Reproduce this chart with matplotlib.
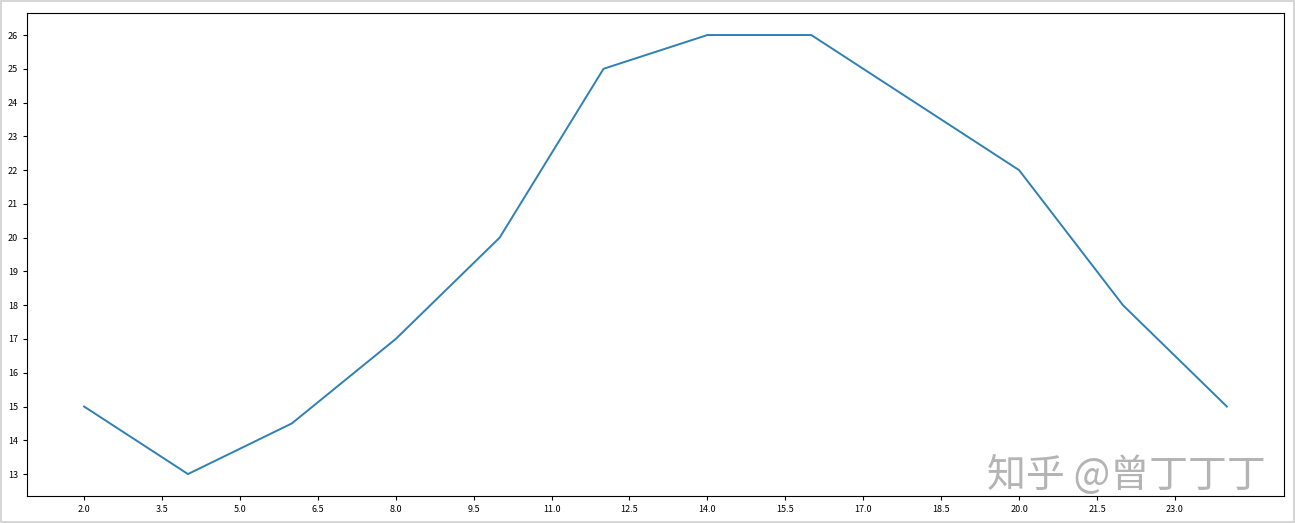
import numpy as np
import matplotlib
matplotlib.use('Agg')
import matplotlib.pyplot as plt
from matplotlib.patches import Rectangle

plt.rcParams['font.family'] = ['Noto Sans CJK SC', 'DejaVu Sans']

# hourly temperature data
hours = [2, 4, 6, 8, 10, 12, 14, 16, 18, 20, 22, 24]
temps = [15, 13, 14.5, 17, 20, 25, 26, 26, 24, 22, 18, 15]
xtick_vals = np.arange(2, 24, 1.5)
ytick_vals = range(13, 27)

fig = plt.figure(figsize=(12.95, 5.23), dpi=100)
ax = fig.add_axes([0.0208, 0.0516, 0.9707, 0.9234])

ax.plot(hours, temps, color='#2f80b4', linewidth=1.4)

ax.set_xticks(xtick_vals)
ax.set_yticks(ytick_vals)
ax.tick_params(labelsize=6.5, length=3)

# light grey frame around the screenshot
fig.patches.append(Rectangle((0.001, 0.002), 0.998, 0.996, transform=fig.transFigure,
                             fill=False, edgecolor='#d0d0d0', linewidth=1.2))

# watermark
fig.text(0.762, 0.068, '知乎 @曾丁丁丁', fontsize=28, color='#b4b4b4',
         family=['Noto Sans CJK SC', 'DejaVu Sans'])

fig.savefig('out.png', dpi=100)
